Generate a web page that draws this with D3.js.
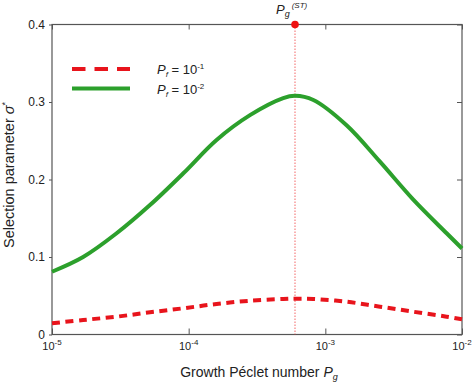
<!DOCTYPE html>
<html><head><meta charset="utf-8">
<script src="https://cdn.jsdelivr.net/npm/d3@7"></script>
<style>
body{margin:0;background:#fff;}
text{font-family:"Liberation Sans",Arial,sans-serif;fill:#222;}
</style></head>
<body><svg id="c" width="474" height="383"></svg>
<script>
const pg = [1e-5, 1.69e-5, 2.97e-5, 5.21e-5, 9.14e-5, 1.60e-4, 2.81e-4, 4.92e-4, 6e-4, 8.17e-4, 1.43e-3, 2.51e-3, 4.40e-3, 7.72e-3, 1e-2];
const sigmaPf1 = [0.0145, 0.0187, 0.023, 0.0286, 0.0338, 0.0394, 0.0436, 0.0458, 0.0462, 0.0458, 0.0423, 0.0359, 0.0294, 0.023, 0.0196];
const sigmaPf2 = [0.081, 0.100, 0.1306, 0.167, 0.208, 0.251, 0.283, 0.305, 0.308, 0.3026, 0.270, 0.223, 0.174, 0.1306, 0.111];
const xTicks = [1e-5, 1e-4, 1e-3, 1e-2];
const xTickExp = ["-5", "-4", "-3", "-2"];
const yTicks = [0, 0.1, 0.2, 0.3, 0.4];
const yTickLabels = ["0", "0.1", "0.2", "0.3", "0.4"];
const pgST = 6e-4;
const legendLabels = ["-1", "-2"];

const svg = d3.select("#c");
const m = {l:52, t:24.5, r:462, b:334.5};
const x = d3.scaleLog().domain([1e-5, 1e-2]).range([m.l, m.r]);
const y = d3.scaleLinear().domain([0, 0.4]).range([m.b, m.t]);
const axisCol = "#555";

// frame
svg.append("rect").attr("x", m.l).attr("y", m.t).attr("width", m.r-m.l).attr("height", m.b-m.t)
  .attr("fill","none").attr("stroke",axisCol).attr("stroke-width",1.2);

// axes
const bx = svg.append("g").attr("transform",`translate(0,${m.b})`)
  .call(d3.axisBottom(x).tickValues(xTicks).tickSize(-6).tickFormat(""));
const tx = svg.append("g").attr("transform",`translate(0,${m.t})`)
  .call(d3.axisTop(x).tickValues(xTicks).tickSize(-5).tickFormat(""));
const ly = svg.append("g").attr("transform",`translate(${m.l},0)`)
  .call(d3.axisLeft(y).tickValues(yTicks).tickSize(3).tickFormat(""));
const ry = svg.append("g").attr("transform",`translate(${m.r},0)`)
  .call(d3.axisRight(y).tickValues(yTicks).tickSize(-5).tickFormat(""));
[bx,tx,ly,ry].forEach(g=>{g.select(".domain").remove(); g.selectAll("line").attr("stroke",axisCol);});

// x tick labels
xTicks.forEach((v,i)=>{
  const t = svg.append("text").attr("x", x(v)).attr("y", 350).attr("text-anchor","middle").attr("font-size",11);
  t.append("tspan").text("10");
  t.append("tspan").attr("dy",-5).attr("font-size",8).text(xTickExp[i]);
});
// y tick labels
yTicks.forEach((v,i)=>{
  svg.append("text").attr("x", 45).attr("y", y(v)+4).attr("text-anchor","end").attr("font-size",12).text(yTickLabels[i]);
});

// vertical dotted line
svg.append("line").attr("x1",x(pgST)).attr("x2",x(pgST)).attr("y1",m.t).attr("y2",m.b)
  .attr("stroke","#f04040").attr("stroke-width",0.8).attr("stroke-dasharray","1.5,1.5");
svg.append("circle").attr("cx",x(pgST)).attr("cy",m.t).attr("r",3.8).attr("fill","#ee1111");
const st = svg.append("text").attr("x", x(pgST)-19).attr("y", 14).attr("font-size",13);
st.append("tspan").attr("font-style","italic").text("P");
st.append("tspan").attr("font-style","italic").attr("font-size",9).attr("dy",3).text("g");
st.append("tspan").attr("font-style","italic").attr("font-size",8).attr("dy",-9).attr("dx",2).text("(ST)");

// lines
const line = d3.line().x(d=>x(d[0])).y(d=>y(d[1])).curve(d3.curveCatmullRom.alpha(0.5));
svg.append("path").datum(pg.map((p,i)=>[p,sigmaPf2[i]])).attr("d",line)
  .attr("fill","none").attr("stroke","#2ca02c").attr("stroke-width",4);
svg.append("path").datum(pg.map((p,i)=>[p,sigmaPf1[i]])).attr("d",line)
  .attr("fill","none").attr("stroke","#e8141c").attr("stroke-width",4).attr("stroke-dasharray","8,5.5");

// legend
svg.append("line").attr("x1",72).attr("x2",130).attr("y1",69).attr("y2",69)
  .attr("stroke","#e8141c").attr("stroke-width",4).attr("stroke-dasharray","13.5,9");
svg.append("line").attr("x1",72).attr("x2",130).attr("y1",88.5).attr("y2",88.5)
  .attr("stroke","#2ca02c").attr("stroke-width",4);
legendLabels.forEach((e,i)=>{
  const t = svg.append("text").attr("x",157).attr("y",74+i*20).attr("font-size",13);
  t.append("tspan").attr("font-style","italic").text("P");
  t.append("tspan").attr("font-style","italic").attr("font-size",8).attr("dy",3).text("f");
  t.append("tspan").attr("dy",-3).text(" = 10");
  t.append("tspan").attr("dy",-5).attr("font-size",8).text(e);
});

// axis titles
const xt = svg.append("text").attr("x",259).attr("y",377).attr("text-anchor","middle").attr("font-size",14);
xt.append("tspan").text("Growth Péclet number ");
xt.append("tspan").attr("font-style","italic").text("P");
xt.append("tspan").attr("font-style","italic").attr("font-size",9).attr("dy",3).text("g");

const yt = svg.append("text").attr("transform","translate(13.5,175) rotate(-90)").attr("text-anchor","middle").attr("font-size",14.5);
yt.append("tspan").text("Selection parameter ");
yt.append("tspan").attr("font-style","italic").text("σ");
yt.append("tspan").attr("font-size",9).attr("dy",-6).text("*");
</script></body></html>
